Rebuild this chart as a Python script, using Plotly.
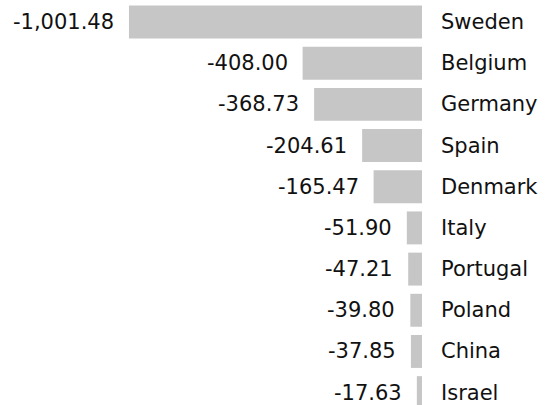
import plotly.graph_objects as go

countries = ["Sweden", "Belgium", "Germany", "Spain", "Denmark",
             "Italy", "Portugal", "Poland", "China", "Israel"]
values = [-1001.48, -408.00, -368.73, -204.61, -165.47,
          -51.90, -47.21, -39.80, -37.85, -17.63]

rows = list(range(len(countries)))
font = dict(family="DejaVu Sans", size=21, color="#111111")

fig = go.Figure(go.Bar(
    x=values, y=rows, orientation="h", width=0.8,
    marker=dict(color="#c6c6c6", line=dict(width=0)),
    hoverinfo="skip",
))

annotations = []
for i, (c, v) in enumerate(zip(countries, values)):
    annotations.append(dict(x=v, y=i, text=f"{v:,.2f}", showarrow=False,
                            xanchor="right", yanchor="middle", xshift=-13,
                            font=font))
    annotations.append(dict(x=0, y=i, text=c, showarrow=False,
                            xanchor="left", yanchor="middle", xshift=17,
                            font=font))

fig.update_layout(
    width=548, height=405,
    margin=dict(l=0, r=0, t=0, b=0),
    paper_bgcolor="white", plot_bgcolor="white",
    showlegend=False,
    annotations=annotations,
    xaxis=dict(range=[-1442.2, 430.6], visible=False, fixedrange=True),
    yaxis=dict(range=[9.30, -0.534], visible=False, fixedrange=True),
)

fig.write_html("out.html")
